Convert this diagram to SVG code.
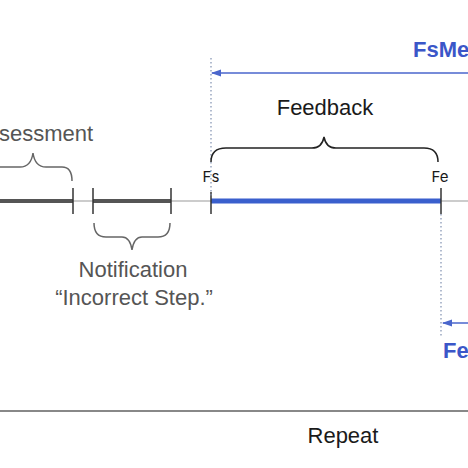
<svg xmlns="http://www.w3.org/2000/svg" width="468" height="468" viewBox="0 0 468 468">
<defs>
<style>
.lbl{font-family:"Liberation Sans",Arial,sans-serif;font-size:22px;}
.gray{fill:#555;}
.dark{fill:#1a1a1a;}
.blue{fill:#3b56c8;font-weight:bold;}
.small{font-family:Inter,"Liberation Sans",sans-serif;font-size:15px;fill:#1a1a1a;}
.tick{stroke:#333;stroke-width:1.5;}
.brace{fill:none;stroke-width:1.5;}
.dot{stroke:#7f8fb0;stroke-width:1.2;stroke-dasharray:1.5 2.5;}
.arrow{stroke:#4a66cc;stroke-width:1.5;fill:none;}
</style>
<marker id="ah" markerWidth="10" markerHeight="8" refX="9" refY="4" orient="auto" markerUnits="userSpaceOnUse">
<path d="M0,0.5 L10,4 L0,7.5 Z" fill="#4a66cc"/>
</marker>
</defs>
<rect width="468" height="468" fill="#fff"/>

<g id="connectors">
<line x1="0" y1="201" x2="468" y2="201" stroke="#999" stroke-width="1.2"/>
<line x1="0" y1="201" x2="73" y2="201" stroke="#555" stroke-width="4"/>
<line x1="93" y1="201" x2="171" y2="201" stroke="#555" stroke-width="4"/>
<line x1="211" y1="201" x2="441" y2="201" stroke="#3a5fcd" stroke-width="5"/>
<line class="tick" x1="73" y1="188" x2="73" y2="214" stroke="#555"/>
<line class="tick" x1="93" y1="188" x2="93" y2="214" stroke="#555"/>
<line class="tick" x1="171" y1="188" x2="171" y2="214" stroke="#555"/>
<line class="tick" x1="211" y1="192" x2="211" y2="214"/>
<line class="tick" x1="441" y1="188" x2="441" y2="214"/>
<line class="dot" x1="211" y1="58" x2="211" y2="197"/>
<line class="dot" x1="441" y1="214" x2="441" y2="338"/>
<line class="arrow" x1="468" y1="73" x2="212" y2="73" marker-end="url(#ah)"/>
<line class="arrow" x1="468" y1="323" x2="443" y2="323" marker-end="url(#ah)"/>
<line x1="0" y1="411" x2="468" y2="411" stroke="#888" stroke-width="2"/>
</g>

<g id="assessment">
<path class="brace" stroke="#666" d="M-20,167 L20,167 Q31,167 33,153 Q35,167 46,167 L62,167 Q72,167 72,181"/>
<text class="lbl gray" x="-1" y="141">sessment</text>
</g>

<g id="notification">
<path class="brace" stroke="#666" d="M94,223 Q94,237 106,237 L122,237 Q130,237 132,250 Q134,237 142,237 L158,237 Q170,237 170,223"/>
<text class="lbl gray" x="133" y="277" text-anchor="middle">Notification</text>
<text class="lbl gray" x="134" y="305" text-anchor="middle">“Incorrect Step.”</text>
</g>

<g id="feedback">
<path class="brace" stroke="#222" d="M211,162 Q211,148 226,148 L312,148 Q322,148 324,137 Q326,148 336,148 L424,148 Q438,148 438,162"/>
<text class="lbl dark" x="325" y="115" text-anchor="middle">Feedback</text>
<text class="small" x="211" y="182" text-anchor="middle">Fs</text>
<text class="small" x="440" y="182" text-anchor="middle">Fe</text>
</g>

<g id="fsme">
<text class="lbl blue" x="413" y="57">FsMe</text>
</g>

<g id="fe-label">
<text class="lbl blue" x="443" y="358">Fe</text>
</g>

<g id="repeat">
<text class="lbl dark" x="343" y="443" text-anchor="middle">Repeat</text>
</g>
</svg>
